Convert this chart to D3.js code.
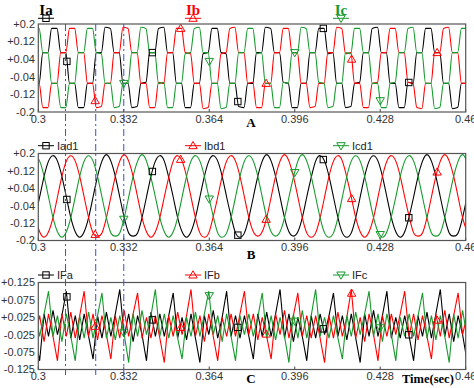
<!DOCTYPE html>
<html>
<head>
<meta charset="utf-8">
<script src="https://cdn.jsdelivr.net/npm/d3@7"></script>
<style>
body { margin: 0; background: #fff; }
svg { display: block; font-family: "Liberation Sans", Arial, sans-serif; }
</style>
</head>
<body>
<div id="chart"></div>
<script>
// sample times (sec)
var timeA = [0.2990,
  0.3003, 0.3017, 0.3036, 0.3050, 0.3070, 0.3084,
  0.3103, 0.3117, 0.3136, 0.3150, 0.3170, 0.3184,
  0.3203, 0.3217, 0.3236, 0.3250, 0.3270, 0.3284,
  0.3303, 0.3317, 0.3336, 0.3350, 0.3370, 0.3384,
  0.3403, 0.3417, 0.3436, 0.3450, 0.3470, 0.3484,
  0.3503, 0.3517, 0.3536, 0.3550, 0.3570, 0.3584,
  0.3603, 0.3617, 0.3636, 0.3650, 0.3670, 0.3684,
  0.3703, 0.3717, 0.3736, 0.3750, 0.3770, 0.3784,
  0.3803, 0.3817, 0.3836, 0.3850, 0.3870, 0.3884,
  0.3903, 0.3917, 0.3936, 0.3950, 0.3970, 0.3984,
  0.4003, 0.4017, 0.4036, 0.4050, 0.4070, 0.4084,
  0.4103, 0.4117, 0.4136, 0.4150, 0.4170, 0.4184,
  0.4203, 0.4217, 0.4236, 0.4250, 0.4270, 0.4284,
  0.4303, 0.4317, 0.4336, 0.4350, 0.4370, 0.4384,
  0.4403, 0.4417, 0.4436, 0.4450, 0.4470, 0.4484,
  0.4503, 0.4517, 0.4536, 0.4550, 0.4570, 0.4584,
  0.4603, 0.4617];

var timeBC = [0.29883,
  0.30050, 0.30217, 0.30383, 0.30550, 0.30717, 0.30883,
  0.31050, 0.31217, 0.31383, 0.31550, 0.31717, 0.31883,
  0.32050, 0.32217, 0.32383, 0.32550, 0.32717, 0.32883,
  0.33050, 0.33217, 0.33383, 0.33550, 0.33717, 0.33883,
  0.34050, 0.34217, 0.34383, 0.34550, 0.34717, 0.34883,
  0.35050, 0.35217, 0.35383, 0.35550, 0.35717, 0.35883,
  0.36050, 0.36217, 0.36383, 0.36550, 0.36717, 0.36883,
  0.37050, 0.37217, 0.37383, 0.37550, 0.37717, 0.37883,
  0.38050, 0.38217, 0.38383, 0.38550, 0.38717, 0.38883,
  0.39050, 0.39217, 0.39383, 0.39550, 0.39717, 0.39883,
  0.40050, 0.40217, 0.40383, 0.40550, 0.40717, 0.40883,
  0.41050, 0.41217, 0.41383, 0.41550, 0.41717, 0.41883,
  0.42050, 0.42217, 0.42383, 0.42550, 0.42717, 0.42883,
  0.43050, 0.43217, 0.43383, 0.43550, 0.43717, 0.43883,
  0.44050, 0.44217, 0.44383, 0.44550, 0.44717, 0.44883,
  0.45050, 0.45217, 0.45383, 0.45550, 0.45717, 0.45883,
  0.46050];

// panel A : line currents
var Ia = [-0.07,
  -0.07, 0.07, 0.07, 0.18, 0.18, 0.07, 0.07, -0.07, -0.07, -0.18, -0.18, -0.07,
  -0.07, 0.07, 0.07, 0.185, 0.18, 0.07, 0.07, -0.07, -0.07, -0.18, -0.175, -0.07,
  -0.065, 0.07, 0.07, 0.18, 0.185, 0.07, 0.07, -0.07, -0.07, -0.18, -0.18, -0.07,
  -0.07, 0.065, 0.07, 0.18, 0.18, 0.07, 0.065, -0.07, -0.07, -0.175, -0.18, -0.07,
  -0.07, 0.07, 0.07, 0.185, 0.18, 0.07, 0.07, -0.065, -0.07, -0.18, -0.18, -0.07,
  -0.07, 0.07, 0.07, 0.18, 0.18, 0.065, 0.07, -0.07, -0.07, -0.18, -0.175, -0.07,
  -0.065, 0.07, 0.07, 0.18, 0.185, 0.07, 0.07, -0.07, -0.07, -0.18, -0.18, -0.065,
  -0.07, 0.07, 0.07, 0.18, 0.18, 0.07, 0.07, -0.07, -0.07, -0.185, -0.18, -0.07,
  -0.07, 0.07];
var Ib = [-0.07,
  -0.07, -0.18, -0.18, -0.07, -0.07, 0.07, 0.07, 0.18, 0.18, 0.07, 0.07, -0.07,
  -0.07, -0.18, -0.175, -0.07, -0.07, 0.07, 0.07, 0.185, 0.18, 0.07, 0.07, -0.07,
  -0.07, -0.18, -0.18, -0.065, -0.07, 0.07, 0.07, 0.18, 0.18, 0.07, 0.065, -0.07,
  -0.07, -0.185, -0.18, -0.07, -0.07, 0.065, 0.07, 0.18, 0.185, 0.07, 0.07, -0.07,
  -0.065, -0.18, -0.18, -0.07, -0.07, 0.07, 0.07, 0.18, 0.18, 0.07, 0.07, -0.07,
  -0.07, -0.18, -0.175, -0.07, -0.07, 0.07, 0.07, 0.185, 0.18, 0.065, 0.07, -0.07,
  -0.07, -0.18, -0.18, -0.07, -0.065, 0.07, 0.07, 0.18, 0.18, 0.07, 0.07, -0.065,
  -0.07, -0.18, -0.185, -0.07, -0.07, 0.07, 0.07, 0.18, 0.185, 0.07, 0.07, -0.07,
  -0.07, -0.18];
var Ic = [0.18,
  0.18, 0.07, 0.07, -0.07, -0.07, -0.18, -0.18, -0.07, -0.07, 0.07, 0.07, 0.18,
  0.18, 0.07, 0.065, -0.07, -0.07, -0.18, -0.175, -0.07, -0.07, 0.07, 0.07, 0.185,
  0.18, 0.07, 0.07, -0.07, -0.065, -0.18, -0.18, -0.07, -0.07, 0.065, 0.07, 0.18,
  0.185, 0.07, 0.07, -0.07, -0.07, -0.185, -0.18, -0.07, -0.07, 0.07, 0.07, 0.18,
  0.18, 0.065, 0.07, -0.07, -0.07, -0.18, -0.18, -0.065, -0.07, 0.07, 0.07, 0.185,
  0.18, 0.07, 0.07, -0.065, -0.07, -0.18, -0.175, -0.07, -0.07, 0.07, 0.065, 0.18,
  0.18, 0.07, 0.07, -0.07, -0.07, -0.18, -0.18, -0.07, -0.065, 0.07, 0.07, 0.18,
  0.185, 0.07, 0.07, -0.07, -0.07, -0.185, -0.18, -0.07, -0.07, 0.07, 0.07, 0.18,
  0.18, 0.07];

// panel B : fundamental components
var Iad1 = [-0.095,
  0, 0.095, 0.165, 0.19, 0.165, 0.095, 0, -0.095, -0.16, -0.185, -0.16, -0.095,
  0, 0.095, 0.165, 0.195, 0.165, 0.095, 0, -0.095, -0.165, -0.18, -0.165, -0.095,
  0, 0.095, 0.165, 0.19, 0.165, 0.09, 0, -0.095, -0.16, -0.185, -0.16, -0.095,
  0, 0.095, 0.165, 0.19, 0.165, 0.095, 0, -0.09, -0.165, -0.185, -0.165, -0.095,
  0, 0.095, 0.165, 0.195, 0.165, 0.095, 0, -0.095, -0.16, -0.18, -0.16, -0.095,
  0, 0.09, 0.165, 0.19, 0.165, 0.095, 0, -0.095, -0.165, -0.185, -0.165, -0.095,
  0, 0.095, 0.165, 0.19, 0.165, 0.095, 0, -0.095, -0.16, -0.185, -0.16, -0.09,
  0, 0.095, 0.165, 0.195, 0.165, 0.095, 0, -0.095, -0.165, -0.18, -0.165, -0.095,
  0];
var Ibd1 = [-0.095,
  -0.16, -0.185, -0.16, -0.095, 0, 0.095, 0.165, 0.19, 0.165, 0.095, 0, -0.095,
  -0.165, -0.18, -0.165, -0.095, 0, 0.095, 0.165, 0.195, 0.165, 0.095, 0, -0.095,
  -0.16, -0.185, -0.16, -0.095, 0, 0.09, 0.165, 0.19, 0.165, 0.095, 0, -0.095,
  -0.165, -0.185, -0.165, -0.09, 0, 0.095, 0.165, 0.19, 0.165, 0.095, 0, -0.095,
  -0.16, -0.18, -0.16, -0.095, 0, 0.095, 0.165, 0.195, 0.165, 0.095, 0, -0.095,
  -0.165, -0.185, -0.165, -0.095, 0, 0.095, 0.165, 0.19, 0.165, 0.09, 0, -0.095,
  -0.16, -0.185, -0.16, -0.095, 0, 0.095, 0.165, 0.19, 0.165, 0.095, 0, -0.09,
  -0.165, -0.18, -0.165, -0.095, 0, 0.095, 0.165, 0.195, 0.165, 0.095, 0, -0.095,
  -0.16];
var Icd1 = [0.19,
  0.165, 0.095, 0, -0.095, -0.16, -0.185, -0.16, -0.095, 0, 0.095, 0.165, 0.19,
  0.165, 0.095, 0, -0.095, -0.165, -0.18, -0.165, -0.095, 0, 0.095, 0.165, 0.195,
  0.165, 0.09, 0, -0.095, -0.16, -0.185, -0.16, -0.095, 0, 0.095, 0.165, 0.19,
  0.165, 0.095, 0, -0.09, -0.165, -0.185, -0.165, -0.095, 0, 0.095, 0.165, 0.19,
  0.165, 0.095, 0, -0.095, -0.16, -0.18, -0.16, -0.095, 0, 0.09, 0.165, 0.195,
  0.165, 0.095, 0, -0.095, -0.165, -0.185, -0.165, -0.095, 0, 0.095, 0.165, 0.19,
  0.165, 0.095, 0, -0.095, -0.16, -0.185, -0.16, -0.09, 0, 0.095, 0.165, 0.19,
  0.165, 0.095, 0, -0.095, -0.165, -0.18, -0.165, -0.095, 0, 0.095, 0.165, 0.195,
  0.165];

// panel C : harmonic (filter) currents
var IFa = [-0.03,
  -0.10, 0.035, -0.03, 0.045, -0.025, 0.03, 0.10, -0.035, 0.03, -0.04, 0.035, -0.03,
  -0.095, 0.03, -0.035, 0.04, -0.03, 0.035, 0.105, -0.03, 0.035, -0.045, 0.03, -0.025,
  -0.10, 0.04, -0.03, 0.035, -0.03, 0.03, 0.095, -0.035, 0.025, -0.04, 0.035, -0.035,
  -0.105, 0.03, -0.025, 0.045, -0.035, 0.025, 0.10, -0.03, 0.03, -0.035, 0.03, -0.03,
  -0.095, 0.035, -0.03, 0.04, -0.03, 0.035, 0.105, -0.035, 0.035, -0.045, 0.025, -0.03,
  -0.10, 0.03, -0.035, 0.035, -0.025, 0.03, 0.095, -0.03, 0.03, -0.04, 0.035, -0.035,
  -0.105, 0.035, -0.03, 0.045, -0.03, 0.03, 0.10, -0.035, 0.025, -0.035, 0.03, -0.03,
  -0.10, 0.03, -0.03, 0.04, -0.035, 0.035, 0.105, -0.03, 0.035, -0.045, 0.03, -0.025,
  -0.10];
var IFb = [-0.03,
  0.03, -0.045, 0.035, -0.03, -0.10, 0.035, -0.03, 0.04, -0.035, 0.03, 0.10, -0.03,
  0.035, -0.04, 0.03, -0.025, -0.095, 0.03, -0.035, 0.045, -0.03, 0.035, 0.095, -0.035,
  0.025, -0.035, 0.03, -0.035, -0.105, 0.03, -0.03, 0.04, -0.025, 0.03, 0.105, -0.03,
  0.03, -0.045, 0.035, -0.03, -0.10, 0.025, -0.03, 0.035, -0.03, 0.035, 0.10, -0.025,
  0.035, -0.04, 0.025, -0.03, -0.095, 0.035, -0.025, 0.045, -0.035, 0.03, 0.095, -0.03,
  0.03, -0.035, 0.03, -0.035, -0.105, 0.03, -0.035, 0.04, -0.03, 0.025, 0.105, -0.035,
  0.025, -0.045, 0.035, -0.025, -0.10, 0.03, -0.03, 0.035, -0.025, 0.035, 0.10, -0.03,
  0.035, -0.04, 0.03, -0.03, -0.095, 0.035, -0.03, 0.045, -0.035, 0.03, 0.095, -0.025,
  0.03];
var IFc = [0.04,
  -0.03, 0.035, 0.10, -0.03, 0.03, -0.045, 0.035, -0.03, -0.10, 0.03, -0.035, 0.04,
  -0.035, 0.03, 0.095, -0.035, 0.025, -0.04, 0.03, -0.025, -0.105, 0.035, -0.03, 0.045,
  -0.025, 0.03, 0.105, -0.03, 0.035, -0.035, 0.03, -0.035, -0.095, 0.025, -0.03, 0.04,
  -0.03, 0.035, 0.10, -0.025, 0.03, -0.045, 0.035, -0.03, -0.10, 0.03, -0.025, 0.035,
  -0.03, 0.025, 0.095, -0.035, 0.03, -0.04, 0.025, -0.03, -0.105, 0.035, -0.035, 0.045,
  -0.035, 0.03, 0.105, -0.03, 0.025, -0.035, 0.03, -0.035, -0.095, 0.03, -0.03, 0.04,
  -0.025, 0.035, 0.10, -0.03, 0.035, -0.045, 0.035, -0.025, -0.10, 0.025, -0.03, 0.035,
  -0.03, 0.03, 0.095, -0.035, 0.03, -0.04, 0.03, -0.03, -0.105, 0.035, -0.035, 0.045,
  -0.03];

var xTicks = [0.3, 0.332, 0.364, 0.396, 0.428, 0.46];
var yTicksAB = [0.2, 0.12, 0.04, -0.04, -0.12, -0.2];
var yTicksC = [0.125, 0.075, 0.025, -0.025, -0.075, -0.125];

// marker times of each phase, and the dash-dot cursor times
var marksA = [0.3107, 0.3427, 0.3747, 0.4067, 0.4387];
var marksB = [0.3213, 0.3533, 0.3853, 0.4173, 0.4493];
var marksC = [0.332, 0.364, 0.396, 0.428];
var cursorTimes = [0.3102, 0.3215, 0.332];

var colors = ["#000000", "#ff0000", "#169a2c"];
var symbols = ["square", "up", "down"];
var markTimes = [marksA, marksB, marksC];
var legendX = [38, 185, 333];

var W = 474, H = 388;
var svg = d3.select("#chart").append("svg")
    .attr("width", W)
    .attr("height", H);

var x = d3.scaleLinear().domain([0.3, 0.46]).range([38.3, 465.7]);

var panels = [
  { id: "A", top: 24, bottom: 112, dom: [-0.2, 0.2], ticks: yTicksAB, time: timeA,
    curve: d3.curveMonotoneX, names: ["Ia", "Ib", "Ic"], series: [Ia, Ib, Ic],
    legendY: 18.3, letterY: 126.7 },
  { id: "B", top: 153.5, bottom: 240.5, dom: [-0.2, 0.2], ticks: yTicksAB, time: timeBC,
    curve: d3.curveNatural, names: ["Iad1", "Ibd1", "Icd1"], series: [Iad1, Ibd1, Icd1],
    legendY: 145.7, letterY: 258.5 },
  { id: "C", top: 282.5, bottom: 369.5, dom: [-0.125, 0.125], ticks: yTicksC, time: timeBC,
    curve: d3.curveLinear, names: ["IFa", "IFb", "IFc"], series: [IFa, IFb, IFc],
    legendY: 275, letterY: 382.5 }
];

function valueAt(ts, vs, t) {
  var i = d3.bisectLeft(ts, t);
  if (i <= 0) return vs[0];
  if (i >= ts.length) return vs[vs.length - 1];
  var f = (t - ts[i - 1]) / (ts[i] - ts[i - 1]);
  return vs[i - 1] + (vs[i] - vs[i - 1]) * f;
}

function drawSymbol(g, type, cx, cy, color) {
  if (type === "square") {
    g.append("rect")
      .attr("x", cx - 3.2).attr("y", cy - 3.2)
      .attr("width", 6.4).attr("height", 6.4)
      .attr("fill", "none").attr("stroke", color).attr("stroke-width", 1);
  } else {
    var s = type === "up" ? 1 : -1;
    g.append("path")
      .attr("d", "M" + cx + "," + (cy - 4.2 * s) + "L" + (cx + 4.2) + "," + (cy + 3 * s) +
                 "L" + (cx - 4.2) + "," + (cy + 3 * s) + "Z")
      .attr("fill", "none").attr("stroke", color).attr("stroke-width", 1);
  }
}

function fmtY(d) {
  return (d > 0 ? "+" : "-") + Math.abs(d);
}

panels.forEach(function (p) {
  var y = d3.scaleLinear().domain(p.dom).range([p.bottom, p.top]);
  var g = svg.append("g");

  g.append("clipPath").attr("id", "clip" + p.id)
    .append("rect")
    .attr("x", x.range()[0]).attr("y", p.top)
    .attr("width", x.range()[1] - x.range()[0])
    .attr("height", p.bottom - p.top);

  // y labels
  g.selectAll(".ylab").data(p.ticks).enter().append("text")
    .attr("x", 35)
    .attr("y", function (d) { return y(d); })
    .attr("dy", "0.35em")
    .attr("text-anchor", "end")
    .style("font-size", "11px")
    .attr("fill", "#333")
    .text(fmtY);

  // x labels and small ticks
  g.selectAll(".xlab").data(xTicks).enter().append("text")
    .attr("x", function (d) { return x(d); })
    .attr("y", p.bottom + 10.8)
    .attr("text-anchor", "middle")
    .style("font-size", "11px")
    .attr("fill", "#333")
    .text(function (d) { return String(d); });
  g.selectAll(".xtk").data(xTicks).enter().append("line")
    .attr("x1", function (d) { return x(d); })
    .attr("x2", function (d) { return x(d); })
    .attr("y1", p.bottom).attr("y2", p.bottom - 3)
    .attr("stroke", "#444");

  var plot = g.append("g").attr("clip-path", "url(#clip" + p.id + ")");
  p.series.forEach(function (vals, si) {
    var line = d3.line()
      .x(function (d, i) { return x(p.time[i]); })
      .y(function (d) { return y(d); })
      .curve(p.curve);
    plot.append("path")
      .datum(vals)
      .attr("fill", "none")
      .attr("stroke", colors[si])
      .attr("stroke-width", 1.1)
      .attr("d", line);
  });

  // markers on the traces
  p.series.forEach(function (vals, si) {
    markTimes[si].forEach(function (t) {
      drawSymbol(plot, symbols[si], x(t), y(valueAt(p.time, vals, t)), colors[si]);
    });
  });

  // frame
  g.append("rect")
    .attr("x", x.range()[0]).attr("y", p.top)
    .attr("width", x.range()[1] - x.range()[0])
    .attr("height", p.bottom - p.top)
    .attr("fill", "none")
    .attr("stroke", "#555")
    .attr("stroke-width", 1.2);

  // legend
  p.names.forEach(function (name, si) {
    var lx = legendX[si], ly = p.legendY;
    g.append("line")
      .attr("x1", lx).attr("x2", lx + 16)
      .attr("y1", ly).attr("y2", ly)
      .attr("stroke", colors[si]).attr("stroke-width", 1);
    drawSymbol(g, symbols[si], lx + 8, ly, colors[si]);
    if (p.id === "A") {
      g.append("text")
        .attr("x", lx + 8).attr("y", 14.5)
        .attr("text-anchor", "middle")
        .style("font-family", "'Liberation Serif', 'Times New Roman', serif")
        .style("font-weight", "bold")
        .style("font-size", "15px")
        .attr("fill", colors[si])
        .text(name);
    } else {
      g.append("text")
        .attr("x", lx + 19).attr("y", ly + 3.8)
        .style("font-size", "11px")
        .attr("fill", "#222")
        .text(name);
    }
  });

  // panel letter
  g.append("text")
    .attr("x", 251).attr("y", p.letterY)
    .attr("text-anchor", "middle")
    .style("font-family", "'Liberation Serif', 'Times New Roman', serif")
    .style("font-weight", "bold")
    .style("font-size", "13px")
    .text(p.id);
});

svg.append("text")
  .attr("x", 402).attr("y", 382.5)
  .style("font-family", "'Liberation Serif', 'Times New Roman', serif")
  .style("font-weight", "bold")
  .style("font-size", "12.5px")
  .text("Time(sec)");

// dash-dot cursors across all three panels
svg.selectAll(".cursor").data(cursorTimes).enter().append("line")
  .attr("x1", function (d) { return x(d); })
  .attr("x2", function (d) { return x(d); })
  .attr("y1", 24).attr("y2", 375)
  .attr("stroke", "#3a4fd0")
  .attr("stroke-width", 1)
  .attr("stroke-dasharray", "7,3,2,3");
</script>
</body>
</html>
